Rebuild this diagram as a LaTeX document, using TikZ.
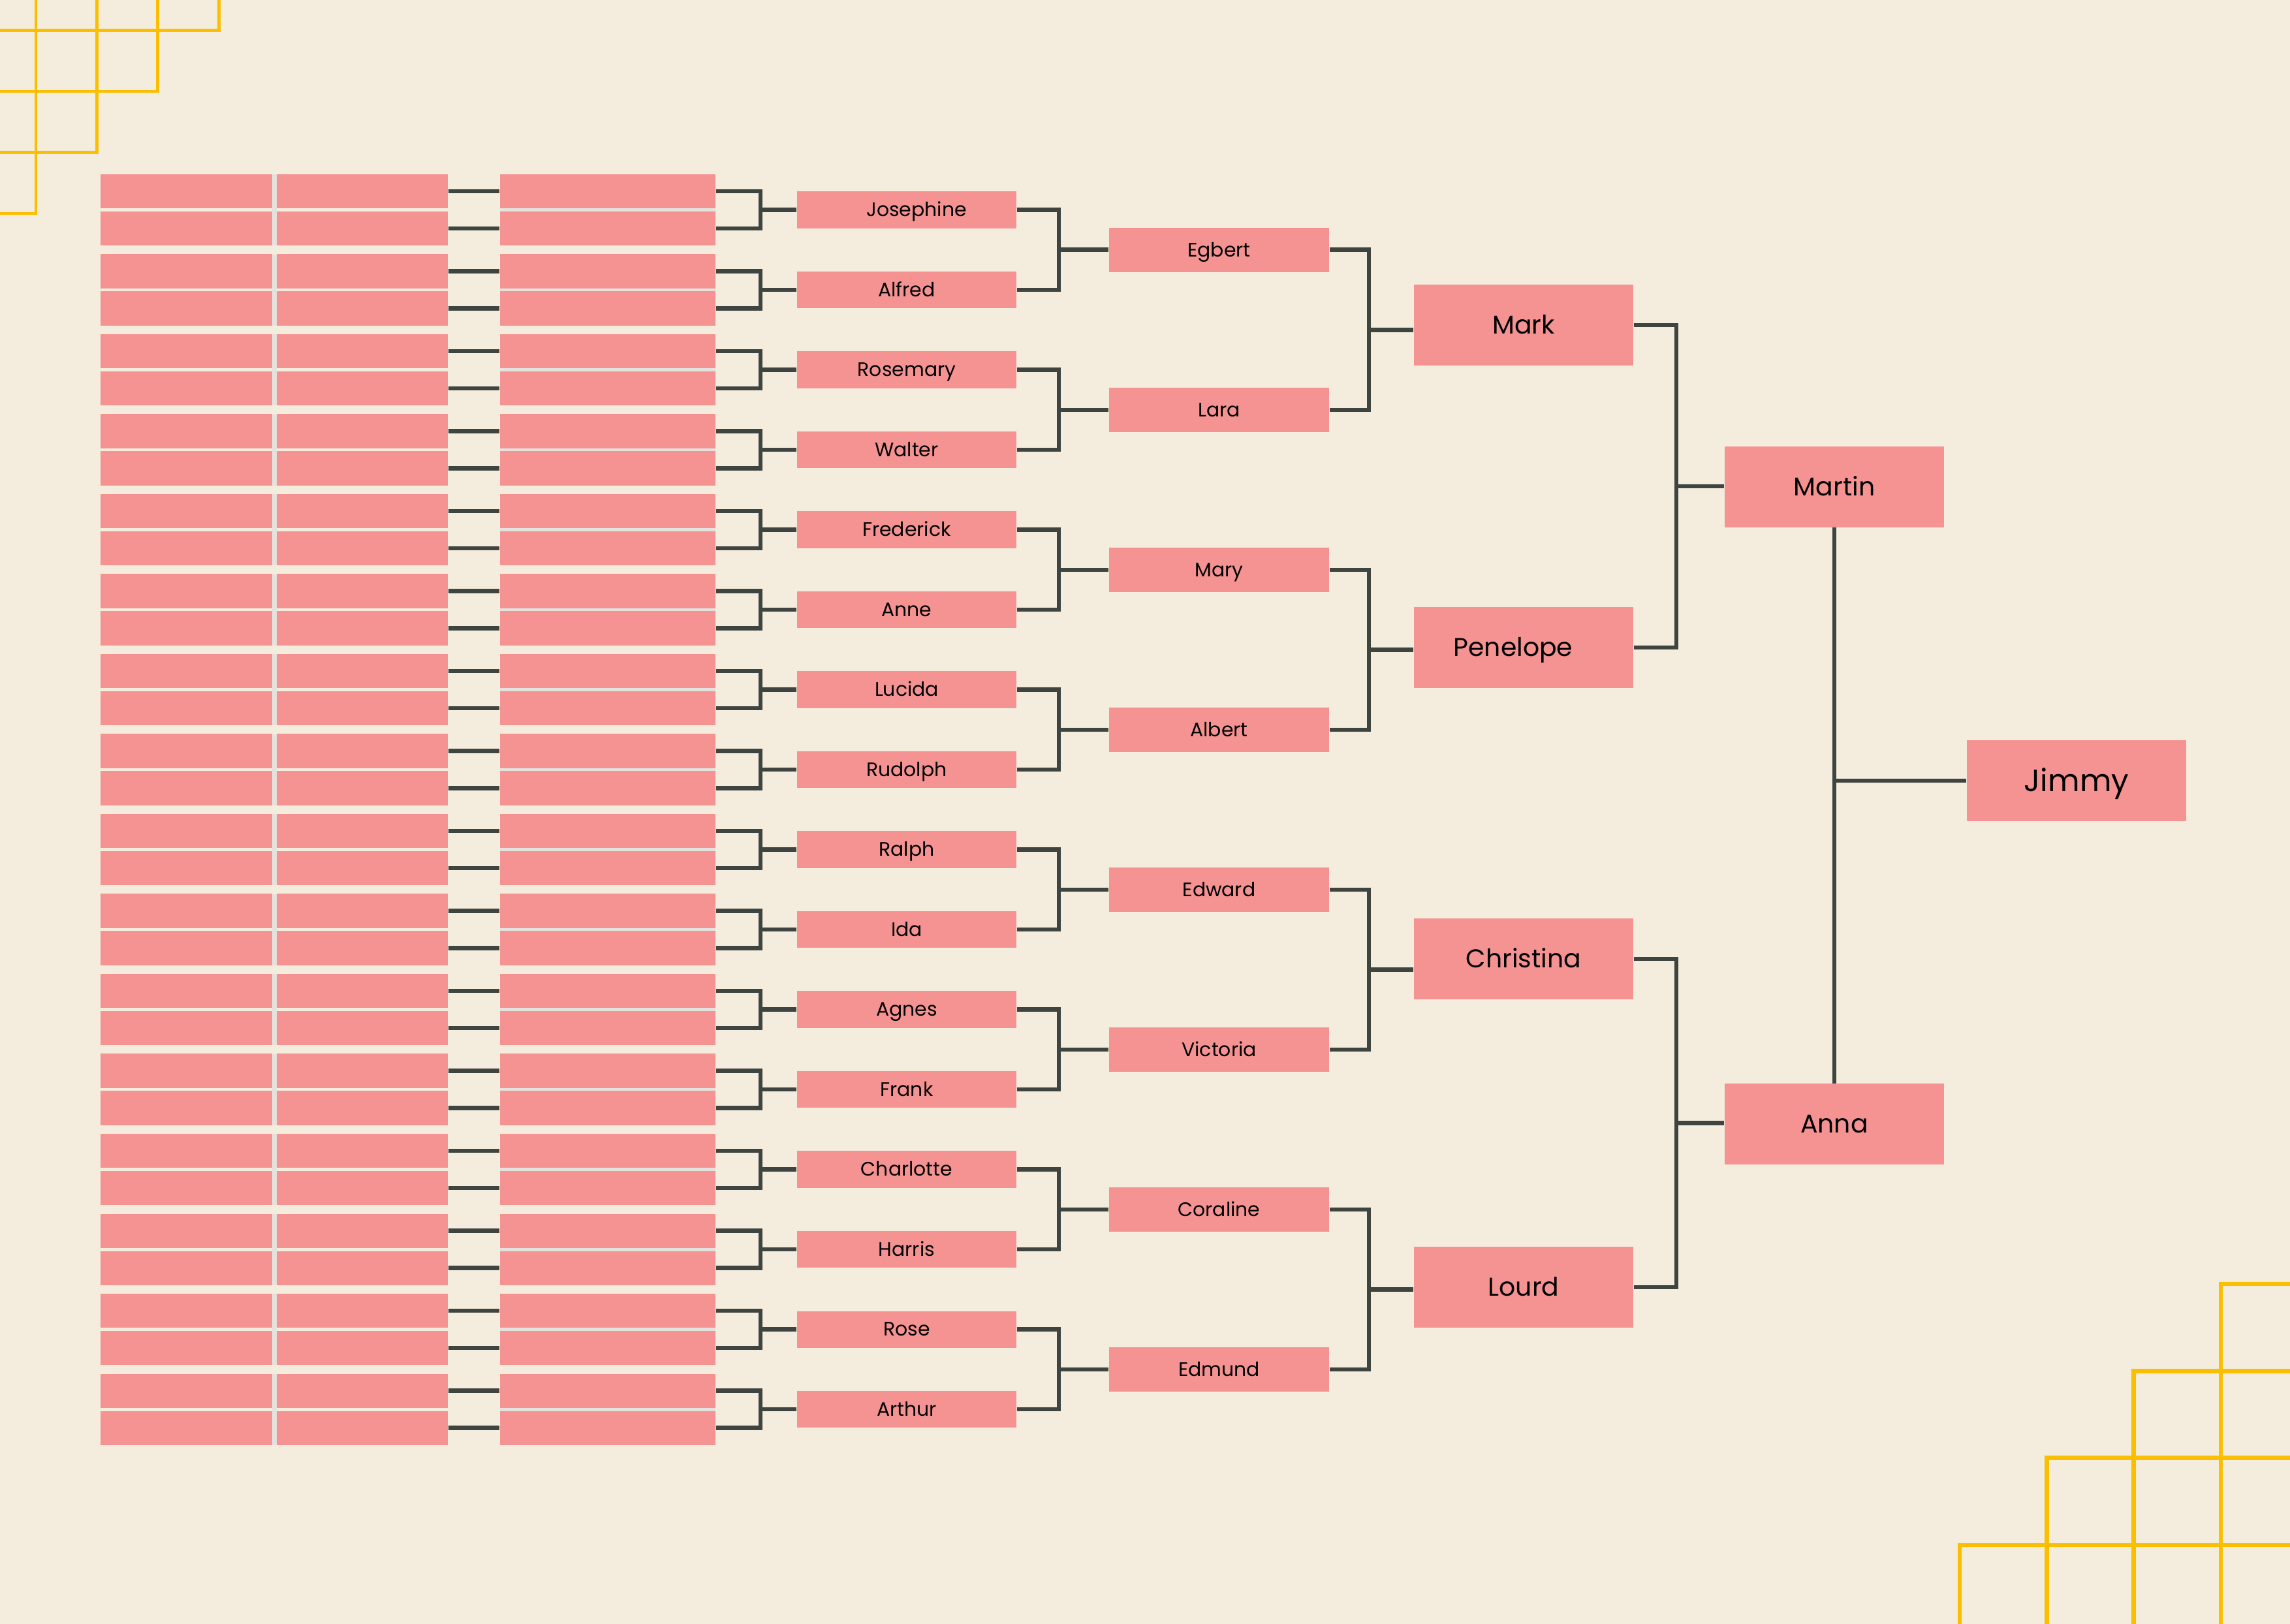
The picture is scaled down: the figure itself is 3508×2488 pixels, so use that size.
\documentclass[tikz,border=0pt]{standalone}
\usepackage{fontspec}
\setmainfont{Poppins}
\usepackage{tikz}
\usetikzlibrary{calc}

\definecolor{bgcream}{HTML}{F4ECDD}
\definecolor{slotpink}{HTML}{F59392}
\definecolor{wiregray}{HTML}{3E4440}
\definecolor{seamgray}{HTML}{E4E2DE}
\definecolor{tileyellow}{HTML}{FBBF00}

\tikzset{
  slot/.style={fill=slotpink, inner sep=0pt, minimum height=0.52cm},
  player/.style={fill=slotpink, inner sep=0pt, minimum width=3.36cm, text depth=0pt},
  roundone/.style={player, minimum height=0.56cm, text height=5.95pt, font=\fontsize{8.5}{10}\selectfont},
  roundtwo/.style={player, minimum width=3.37cm, minimum height=0.68cm, text height=5.95pt, font=\fontsize{8.5}{10}\selectfont},
  roundthree/.style={player, minimum height=1.23cm, text height=7.84pt, font=\fontsize{11.2}{13}\selectfont},
  champ/.style={player, minimum height=1.24cm, text height=9.38pt, font=\fontsize{13.4}{16}\selectfont},
  wire/.style={draw=wiregray, line width=0.065cm},
  tile/.style={draw=tileyellow, line width=0.047cm},
}

\begin{document}
\begin{tikzpicture}[x=0.01cm, y=-0.01cm]
\useasboundingbox (0,0) rectangle (3508,2488);
\fill[bgcream] (0,0) rectangle (3508,2488);

% corner tiles
\begin{scope}
\clip (0,0) rectangle (3508,2488);
\foreach \i in {0,...,3}
  \foreach \j in {0,...,3}
  {
    \pgfmathtruncatemacro\s{\i+\j}
    \ifnum\s<4
      \draw[tile] (-38.4+93.4*\i,-46.7+93.4*\j) rectangle ++(93.4,93.4);
    \fi
    \ifnum\s>2
      \draw[tile, line width=0.065cm] (3002+133.3*\i,1967+133.3*\j) rectangle ++(133.3,133.3);
    \fi
  }
\end{scope}

% empty slots, first rounds
\foreach \i in {0,...,15} {
  \pgfmathsetmacro\ytop{267+122.5*\i}
  \fill[seamgray] (417,\ytop) rectangle (424,\ytop+109);
  \fill[seamgray] (766,\ytop+52) rectangle (1096,\ytop+57);
  \node[slot, minimum width=2.63cm] (aU\i) at (285.5,\ytop+26) {};
  \node[slot, minimum width=2.63cm] (aL\i) at (285.5,\ytop+83) {};
  \node[slot, minimum width=2.62cm] (bU\i) at (555,\ytop+26) {};
  \node[slot, minimum width=2.62cm] (bL\i) at (555,\ytop+83) {};
  \node[slot, minimum width=3.30cm] (cU\i) at (931,\ytop+26) {};
  \node[slot, minimum width=3.30cm] (cL\i) at (931,\ytop+83) {};
  \draw[wire] (bU\i.east) -- (cU\i.west);
  \draw[wire] (bL\i.east) -- (cL\i.west);
}

% names
\foreach \nm [count=\i from 0] in {\hspace*{0.30cm}Josephine,Alfred,Rosemary,Walter,Frederick,Anne,Lucida,Rudolph,Ralph,Ida,Agnes,Frank,Charlotte,Harris,Rose,Arthur} {
  \node[roundone] (n\i) at (1389,321.5+122.5*\i) {\nm};
  \draw[wire] (cU\i.east) -- ++(68,0) |- (cL\i.east);
  \draw[wire] ($(cU\i.east)!.5!(cL\i.east)$) ++(68,0) -- (n\i.west);
}

\foreach \nm [count=\j from 0] in {Egbert,Lara,Mary,Albert,Edward,Victoria,Coraline,Edmund} {
  \pgfmathtruncatemacro\a{2*\j}
  \pgfmathtruncatemacro\b{2*\j+1}
  \node[roundtwo] (e\j) at (1867.5,382.75+245*\j) {\nm};
  \draw[wire] (n\a.east) -- ++(64,0) |- (n\b.east);
  \draw[wire] ($(n\a.east)!.5!(n\b.east)$) ++(64,0) -- (e\j.west);
}

\node[roundthree] (mark) at (2334,498) {Mark};
\node[roundthree] (penelope) at (2334,992) {Penelope\hspace*{0.32cm}};
\node[roundthree] (christina) at (2334,1469) {Christina};
\node[roundthree] (lourd) at (2334,1972) {Lourd};

\foreach \a/\b/\t in {0/1/mark,2/3/penelope,4/5/christina,6/7/lourd} {
  \draw[wire] (e\a.east) -- ++(60,0) |- (e\b.east);
  \draw[wire] ($(e\a.east)!.5!(e\b.east)$) ++(60,0) coordinate (m) -- (m -| \t.west);
}

\node[roundthree] (martin) at (2810,746) {Martin};
\node[roundthree] (anna) at (2810,1722) {Anna};

\foreach \a/\b/\t in {mark/penelope/martin,christina/lourd/anna} {
  \draw[wire] (\a.east) -- ++(65,0) |- (\b.east);
  \draw[wire] ($(\a.east)!.5!(\b.east)$) ++(65,0) coordinate (m) -- (m -| \t.west);
}

% final
\node[champ] (jimmy) at (3181,1196) {Jimmy};
\draw[wire] (martin.south) -- (anna.north);
\draw[wire] (martin.south |- jimmy.west) -- (jimmy.west);
\end{tikzpicture}
\end{document}
